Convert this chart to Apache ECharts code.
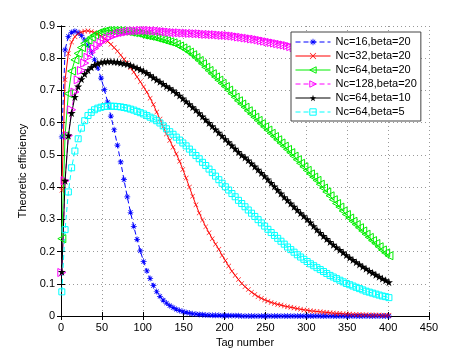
<!DOCTYPE html>
<html>
<head>
<meta charset="utf-8">
<script src="https://cdn.jsdelivr.net/npm/echarts@6/dist/echarts.min.js"></script>
<style>html,body{margin:0;padding:0;background:#fff;}#c{width:474px;height:355px;}</style>
</head>
<body>
<div id="c"></div>
<script>
// Tag numbers sampled every 4 tags (1, 5, 9, ... 401)
const tags = [];
for (let n = 1; n <= 401; n += 4) tags.push(n);

const xTicks = [0, 50, 100, 150, 200, 250, 300, 350, 400, 450];
const yTicks = [0, 0.1, 0.2, 0.3, 0.4, 0.5, 0.6, 0.7, 0.8, 0.9];

const names = ['Nc=16,beta=20', 'Nc=32,beta=20', 'Nc=64,beta=20', 'Nc=128,beta=20', 'Nc=64,beta=10', 'Nc=64,beta=5'];

const nc16b20 = [
 0.556,0.826,0.868,0.880,0.884,0.879,0.870,0.857,0.841,0.820,
 0.796,0.770,0.738,0.703,0.664,0.620,0.578,0.530,0.478,0.423,
 0.370,0.322,0.278,0.238,0.202,0.169,0.140,0.116,0.094,0.076,
 0.061,0.049,0.040,0.032,0.026,0.021,0.017,0.014,0.011,0.009,
 0.007,0.006,0.005,0.004,0.003,0.003,0.002,0.002,0.002,0.001,
 0.001,0.001,0.001,0.001,0.001,0,0,0,0,0,
 0,0,0,0,0,0,0,0,0,0,
 0,0,0,0,0,0,0,0,0,0,
 0,0,0,0,0,0,0,0,0,0,
 0,0,0,0,0,0,0,0,0,0,
 0];

const nc32b20 = [
 0.390,0.733,0.815,0.850,0.867,0.876,0.881,0.884,0.885,0.883,
 0.880,0.875,0.869,0.861,0.852,0.843,0.833,0.822,0.810,0.797,
 0.785,0.771,0.757,0.742,0.727,0.711,0.695,0.676,0.656,0.633,
 0.611,0.588,0.565,0.545,0.524,0.503,0.480,0.455,0.428,0.400,
 0.372,0.345,0.320,0.298,0.277,0.258,0.240,0.223,0.207,0.188,
 0.172,0.155,0.139,0.126,0.113,0.101,0.091,0.082,0.074,0.067,
 0.060,0.055,0.050,0.046,0.042,0.039,0.036,0.034,0.031,0.029,
 0.027,0.025,0.023,0.021,0.019,0.018,0.016,0.015,0.014,0.013,
 0.012,0.011,0.010,0.009,0.008,0.008,0.007,0.006,0.006,0.005,
 0.005,0.004,0.004,0.004,0.003,0.003,0.003,0.003,0.002,0.002,
 0.002];

const nc64b20 = [
 0.240,0.560,0.690,0.760,0.795,0.815,0.833,0.846,0.856,0.865,
 0.872,0.878,0.882,0.884,0.886,0.886,0.886,0.886,0.885,0.884,
 0.883,0.881,0.879,0.878,0.875,0.872,0.870,0.868,0.866,0.863,
 0.860,0.857,0.854,0.851,0.848,0.843,0.838,0.832,0.826,0.819,
 0.811,0.802,0.793,0.783,0.772,0.762,0.752,0.742,0.732,0.722,
 0.712,0.701,0.690,0.679,0.668,0.658,0.648,0.637,0.627,0.617,
 0.607,0.597,0.587,0.577,0.567,0.557,0.547,0.537,0.527,0.517,
 0.507,0.496,0.485,0.474,0.463,0.452,0.441,0.431,0.421,0.409,
 0.397,0.385,0.373,0.361,0.349,0.338,0.326,0.315,0.304,0.294,
 0.284,0.274,0.264,0.254,0.244,0.234,0.225,0.215,0.205,0.196,
 0.187];

const nc128b20 = [
 0.135,0.420,0.560,0.640,0.695,0.733,0.762,0.785,0.803,0.818,
 0.830,0.840,0.849,0.856,0.862,0.867,0.871,0.875,0.878,0.880,
 0.882,0.884,0.885,0.885,0.886,0.886,0.886,0.886,0.885,0.885,
 0.884,0.883,0.882,0.881,0.880,0.879,0.879,0.878,0.878,0.877,
 0.877,0.876,0.876,0.875,0.874,0.874,0.873,0.873,0.872,0.871,
 0.871,0.870,0.869,0.868,0.866,0.865,0.863,0.862,0.860,0.859,
 0.857,0.855,0.853,0.851,0.849,0.847,0.845,0.843,0.841,0.839,
 0.836,0.833,0.829,0.825,0.822,0.818,0.814,0.810,0.805,0.800,
 0.795,0.790,0.785,0.780,0.774,0.768,0.762,0.757,0.752,0.747,
 0.742,0.737,0.732,0.727,0.722,0.717,0.711,0.706,0.700,0.695,
 0.690];

const nc64b10 = [
 0.137,0.420,0.560,0.630,0.680,0.712,0.735,0.751,0.763,0.772,
 0.779,0.784,0.787,0.789,0.790,0.790,0.789,0.788,0.786,0.784,
 0.782,0.778,0.774,0.770,0.765,0.760,0.754,0.747,0.740,0.733,
 0.727,0.720,0.713,0.707,0.700,0.692,0.684,0.675,0.666,0.657,
 0.648,0.639,0.629,0.619,0.609,0.599,0.589,0.579,0.569,0.559,
 0.549,0.539,0.529,0.519,0.509,0.499,0.492,0.483,0.473,0.464,
 0.454,0.444,0.434,0.424,0.413,0.402,0.391,0.380,0.369,0.359,
 0.349,0.339,0.329,0.319,0.310,0.300,0.290,0.279,0.268,0.258,
 0.248,0.239,0.230,0.221,0.213,0.205,0.197,0.189,0.181,0.174,
 0.167,0.160,0.153,0.147,0.140,0.134,0.128,0.122,0.116,0.111,
 0.105];

const nc64b5 = [
 0.075,0.268,0.385,0.460,0.512,0.550,0.583,0.606,0.622,0.632,
 0.640,0.645,0.648,0.650,0.651,0.651,0.651,0.650,0.649,0.647,
 0.645,0.642,0.639,0.635,0.631,0.627,0.622,0.617,0.612,0.606,
 0.599,0.590,0.581,0.572,0.564,0.555,0.546,0.537,0.528,0.518,
 0.508,0.498,0.488,0.477,0.467,0.456,0.445,0.434,0.423,0.412,
 0.401,0.391,0.380,0.370,0.359,0.349,0.339,0.329,0.319,0.309,
 0.299,0.289,0.279,0.269,0.259,0.250,0.241,0.232,0.223,0.214,
 0.206,0.198,0.190,0.183,0.176,0.169,0.162,0.156,0.150,0.144,
 0.138,0.132,0.126,0.121,0.116,0.111,0.106,0.101,0.097,0.093,
 0.089,0.085,0.081,0.077,0.074,0.071,0.068,0.065,0.062,0.060,
 0.057];

const FONT = 'Liberation Sans, Arial, Helvetica, sans-serif';
const pts = vals => vals.map((v, i) => [tags[i], v]);

const ASTER = 'path://M4.4,0h1.2v10h-1.2z M0,4.4h10v1.2h-10z M1.1,2l0.9,-0.9l7,7l-0.9,0.9z M8,1.1l0.9,0.9l-7,7l-0.9,-0.9z';
const XMARK = 'path://M0.7,0L5,4.3L9.3,0L10,0.7L5.7,5L10,9.3L9.3,10L5,5.7L0.7,10L0,9.3L4.3,5L0,0.7Z';
const TRI_L = 'path://M0,5L10,0L10,10Z';
const TRI_R = 'path://M10,5L0,0L0,10Z';
const STAR = 'path://M5,0L6.2,3.6L10,3.6L6.9,5.9L8.1,9.5L5,7.3L1.9,9.5L3.1,5.9L0,3.6L3.8,3.6Z';

const specs = [
  { vals: nc16b20, color: '#0000ff', symbol: ASTER, size: 6, dashed: true, hollow: false },
  { vals: nc32b20, color: '#ff0000', symbol: XMARK, size: 5, dashed: false, hollow: false },
  { vals: nc64b20, color: '#00ee00', symbol: TRI_L, size: 8, dashed: false, hollow: true },
  { vals: nc128b20, color: '#ff00ff', symbol: TRI_R, size: 8, dashed: true, hollow: true },
  { vals: nc64b10, color: '#000000', symbol: STAR, size: 8, dashed: false, hollow: false },
  { vals: nc64b5, color: '#00ffff', symbol: 'rect', size: 6, dashed: true, hollow: true }
];

function itemStyleOf(s) {
  return s.hollow ? { color: 'rgba(0,0,0,0)', borderColor: s.color, borderWidth: 1 }
                  : { color: s.color, borderWidth: 0 };
}

const series = specs.map((s, i) => ({
  name: names[i], type: 'line', data: pts(s.vals),
  symbol: s.symbol, symbolSize: s.size, showSymbol: true,
  lineStyle: { color: s.color, width: 1, type: s.dashed ? [5, 3] : 'solid' },
  itemStyle: itemStyleOf(s),
  emphasis: { disabled: true },
  z: 2
}));

const legendData = specs.map((s, i) => ({
  name: names[i],
  itemStyle: itemStyleOf(s),
  lineStyle: { color: s.color, width: 1, type: s.dashed ? [5, 3] : 'solid' }
}));

const chart = echarts.init(document.getElementById('c'), null, { renderer: 'canvas' });
const axisCommon = {
  axisLine: { show: true, lineStyle: { color: '#000', width: 1 } },
  axisTick: { show: true, inside: true, length: 4, lineStyle: { color: '#000' } }
};
chart.setOption({
  animation: false,
  backgroundColor: '#fff',
  grid: { left: 61, right: 45, top: 26, bottom: 39, containLabel: false },
  legend: {
    orient: 'vertical', left: 291, top: 32,
    data: legendData,
    itemWidth: 35, itemHeight: 8, itemGap: 2,
    padding: [4, 4, 3, 4],
    backgroundColor: '#fff', borderColor: '#444', borderWidth: 1, borderRadius: 0,
    textStyle: { fontFamily: FONT, fontSize: 11, lineHeight: 12, color: '#000', padding: [0, 0, 0, 0] },
    z: 10
  },
  xAxis: [
    Object.assign({
      type: 'value', min: xTicks[0], max: xTicks[xTicks.length - 1], interval: 50, position: 'bottom',
      axisLabel: { color: '#000', fontFamily: FONT, fontSize: 11, margin: 6 },
      splitLine: { show: true, lineStyle: { color: '#999', type: [1, 3], width: 1 } },
      name: 'Tag number', nameLocation: 'middle', nameGap: 17,
      nameTextStyle: { fontFamily: FONT, fontSize: 11, color: '#000' }
    }, axisCommon),
    Object.assign({
      type: 'value', min: xTicks[0], max: xTicks[xTicks.length - 1], interval: 50, position: 'top',
      axisLabel: { show: false }, splitLine: { show: false }
    }, axisCommon)
  ],
  yAxis: [
    Object.assign({
      type: 'value', min: yTicks[0], max: yTicks[yTicks.length - 1], interval: 0.1, position: 'left',
      axisLabel: { color: '#000', fontFamily: FONT, fontSize: 11, margin: 6 },
      splitLine: { show: true, lineStyle: { color: '#999', type: [1, 3], width: 1 } },
      name: 'Theoretic efficiency', nameLocation: 'middle', nameGap: 29,
      nameTextStyle: { fontFamily: FONT, fontSize: 11, color: '#000' }
    }, axisCommon),
    Object.assign({
      type: 'value', min: yTicks[0], max: yTicks[yTicks.length - 1], interval: 0.1, position: 'right',
      axisLabel: { show: false }, splitLine: { show: false }
    }, axisCommon)
  ],
  series: series
});
</script>
</body>
</html>
